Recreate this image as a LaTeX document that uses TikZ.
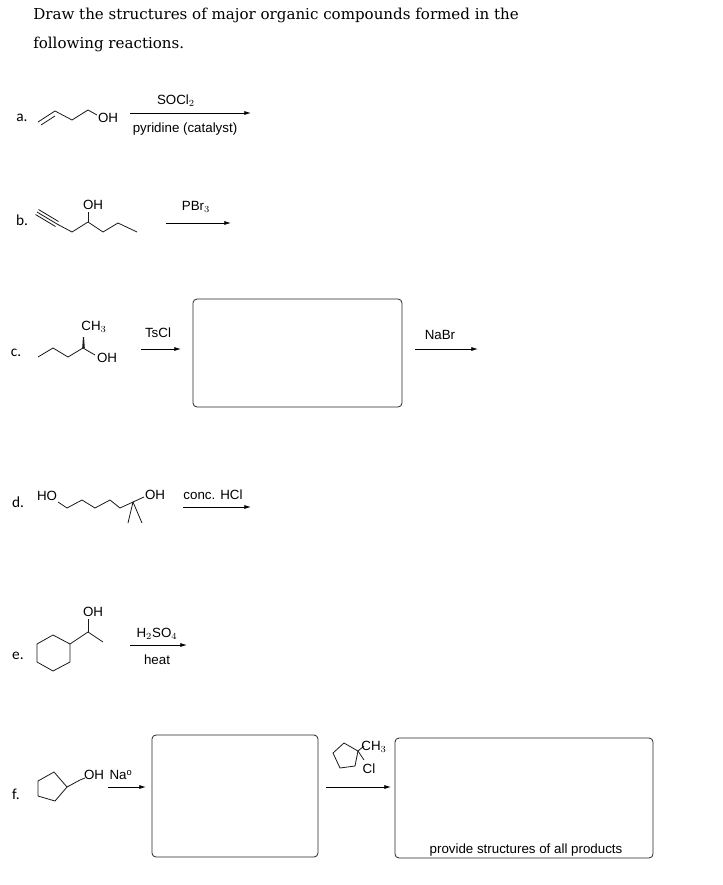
\documentclass[tikz,border=0pt]{standalone}
\usepackage{fontspec}
\setmainfont{Liberation Sans}
\newfontfamily\titlefont{DejaVu Serif}
\newfontfamily\labfont{Carlito}
\usetikzlibrary{arrows.meta}
\begin{document}
\begin{tikzpicture}[x=0.75pt,y=-0.75pt,
  bond/.style={line width=0.6pt,gray!20!black},
  rx/.style={line width=0.6pt,-{Latex[length=5pt,width=3pt]}},
  lab/.style={font=\labfont\fontsize{11.5}{13}\selectfont},
  chem/.style={font=\fontsize{10}{12}\selectfont,inner sep=0pt},
  ttl/.style={font=\titlefont\fontsize{11.3}{13}\selectfont,anchor=west,inner sep=0pt},
  box/.style={draw,line width=0.6pt,rounded corners=3pt,gray!30!black}]
\useasboundingbox (0,0) rectangle (723,885);
\node[ttl] (t1) at (33,15) {Draw the structures of major organic compounds formed in the};
\node[ttl] (t2) at (33,44) {following reactions.};
% a
\node[lab] (la) at (22,118) {a.};
\draw[bond] (38,122)--(55,111)--(72,120)--(88,110)--(97,115);
\draw[bond] (41,125)--(55,116);
\node[chem] (aoh) at (108,118) {OH};
\coordinate (a1) at (130,113); \coordinate (a2) at (251,113);
\draw[rx] (a1)--(a2);
\node[chem] (soc) at (176,101) {SOCl$_2$};
\node[chem] (pyr) at (185,129) {pyridine (catalyst)};
% b
\node[lab] (lb) at (22,220) {b.};
\draw[bond] (37,212)--(57,224)--(72,232)--(88,222)--(103,232)--(118,223)--(137,232);
\draw[bond] (38.5,209.5)--(58.5,221.5);
\draw[bond] (35.5,214.5)--(55.5,226.5);
\draw[bond] (88,222)--(88,212);
\node[chem] (boh) at (93,205) {OH};
\coordinate (b1) at (166,223); \coordinate (b2) at (231,223);
\draw[rx] (b1)--(b2);
\node[chem] (pbr) at (196,207) {PBr$_3$};
% c
\node[lab] (lc) at (16,353) {c.};
\draw[bond] (38,357)--(53,348)--(68,357)--(83,348)--(95,355);
\fill[gray!20!black] (82.2,348)--(84.8,348)--(84,337)--(83,337)--cycle;
\node[chem] (cch) at (94,327) {CH$_3$};
\node[chem] (coh) at (107,358) {OH};
\coordinate (c1) at (141,349); \coordinate (c2) at (181,349);
\draw[rx] (c1)--(c2);
\node[chem] (ts) at (158,333) {TsCl};
\draw[box] (193,299) rectangle (402,407);
\coordinate (c3) at (415,349); \coordinate (c4) at (478,349);
\draw[rx] (c3)--(c4);
\node[chem] (nabr) at (440,335) {NaBr};
% d
\node[lab] (ld) at (18,502) {d.};
\node[chem] (dho) at (47,496) {HO};
\draw[bond] (58,502)--(67,508)--(82,500)--(95,508)--(110,500)--(120,508)--(133,502)--(144,497);
\draw[bond] (133,502)--(128,523); \draw[bond] (133,502)--(142,523);
\node[chem] (doh) at (155,495) {OH};
\coordinate (d1) at (183,507); \coordinate (d2) at (251,507);
\draw[rx] (d1)--(d2);
\node[chem] (hcl) at (213,495) {conc. HCl};
% e
\node[lab] (le) at (18,656) {e.};
\draw[bond] (37,644)--(53,635)--(70,644)--(70,662)--(53,671)--(37,662)--cycle;
\draw[bond] (70,644)--(88,632)--(103,642);
\draw[bond] (88,632)--(88,619);
\node[chem] (eoh) at (93,612) {OH};
\coordinate (e1) at (130,645); \coordinate (e2) at (187,645);
\draw[rx] (e1)--(e2);
\node[chem] (hs) at (157,634) {H$_2$SO$_4$};
\node[chem] (heat) at (157,660) {heat};
% f
\node[lab] (lf) at (16,794) {f.};
\draw[bond] (38,781)--(54,772)--(67,787)--(55,801)--(38,796)--cycle;
\draw[bond] (67,787)--(80,780)--(85,778);
\node[chem] (foh) at (94,775) {OH};
\node[chem] (na) at (121,775) {Na$^{\mathrm o}$};
\coordinate (f1) at (108,787); \coordinate (f2) at (146,787);
\draw[rx] (f1)--(f2);
\draw[box] (152,735) rectangle (318,857);
\draw[bond] (333,753)--(344,743)--(358,751)--(355,766)--(340,768)--cycle;
\draw[bond] (358,751)--(364,746); \draw[bond] (358,751)--(364,760);
\node[chem] (fch) at (374,747) {CH$_3$};
\node[chem] (fcl) at (369,769) {Cl};
\coordinate (f3) at (326,787); \coordinate (f4) at (391,787);
\draw[rx] (f3)--(f4);
\draw[box] (395,738) rectangle (653,858);
\node[chem] (prov) at (526,850) {provide structures of all products};
\end{tikzpicture}
\end{document}
